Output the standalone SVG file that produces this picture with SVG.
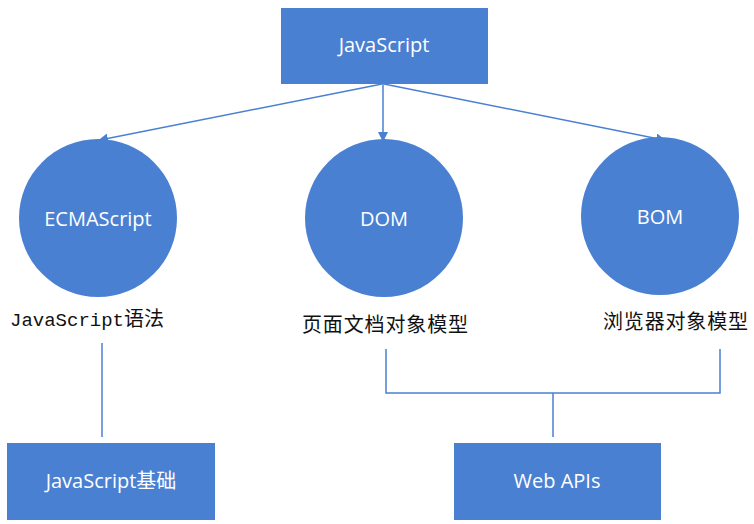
<svg xmlns="http://www.w3.org/2000/svg" width="754" height="524" viewBox="0 0 754 524">
<style>
.b{fill:#4a80d2}
.w{fill:#fff;font-family:"Open Sans","Noto Sans CJK SC",sans-serif;font-size:20px;text-anchor:middle}
.k{fill:#111;font-family:"Noto Sans CJK SC",sans-serif;font-size:20px}
.l{stroke:#4a80d2;stroke-width:1.5;fill:none}
</style>
<defs><marker id="a" markerWidth="10" markerHeight="10" refX="8" refY="5" orient="auto" markerUnits="userSpaceOnUse"><path d="M0,0L10,5L0,10z" fill="#4a80d2"/></marker></defs>
<rect width="754" height="524" fill="#fff"/>
<g id="connectors">
<line class="l" x1="382" y1="84" x2="100" y2="140" marker-end="url(#a)"/>
<line class="l" x1="383" y1="84" x2="383" y2="140" marker-end="url(#a)"/>
<line class="l" x1="384" y1="84" x2="664" y2="140" marker-end="url(#a)"/>
<line class="l" x1="102" y1="343" x2="102" y2="437"/>
<path class="l" d="M386,349V393H720V349M553,393V437"/>
</g>
<g id="javascript"><rect class="b" x="281" y="8" width="207" height="76"/><text class="w" x="384" y="52">JavaScript</text></g>
<g id="ecmascript"><circle class="b" cx="98" cy="218" r="79"/><text class="w" x="98" y="226">ECMAScript</text></g>
<g id="dom"><circle class="b" cx="384" cy="218" r="79"/><text class="w" x="384" y="226">DOM</text></g>
<g id="bom"><circle class="b" cx="660" cy="216" r="79"/><text class="w" x="660" y="224">BOM</text></g>
<g id="t1"><text class="k" x="10" y="326"><tspan font-family="Liberation Mono,monospace" font-size="19">JavaScript</tspan>语法</text></g>
<g id="t2"><text class="k" x="302" y="332" textLength="166">页面文档对象模型</text></g>
<g id="t3"><text class="k" x="603" y="329" textLength="145">浏览器对象模型</text></g>
<g id="jsbase"><rect class="b" x="7" y="443" width="208" height="77"/><text class="w" x="111" y="488">JavaScript基础</text></g>
<g id="webapi"><rect class="b" x="454" y="443" width="207" height="77"/><text class="w" x="557" y="488">Web APIs</text></g>
</svg>
